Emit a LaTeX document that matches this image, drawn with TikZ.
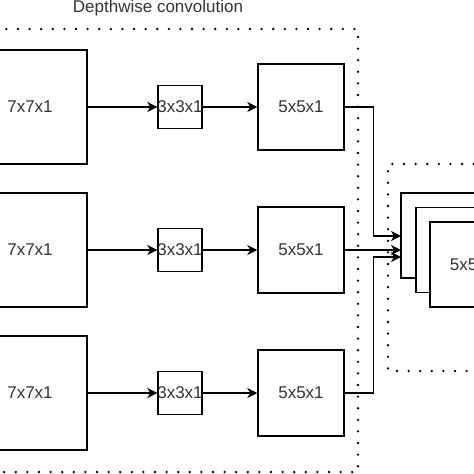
\documentclass[tikz,border=0pt]{standalone}
\usepackage{fontspec}
\setmainfont{Liberation Sans}
\usetikzlibrary{arrows.meta}
\tikzset{
  box/.style={draw=black, line width=1.4pt, fill=white, inner sep=0pt, text=black!80, font=\fontsize{17}{20}\selectfont},
  arr/.style={draw=black, line width=1.4pt, -{Stealth[length=10pt,width=10pt,inset=3pt]}},
  plainline/.style={draw=black, line width=1.4pt},
  dotline/.style={draw=black, line width=2.6pt, line cap=round, dash pattern=on 0pt off 11.6pt},
}
\begin{document}
\begin{tikzpicture}[x=1pt,y=-1pt]
\useasboundingbox (0,0) rectangle (474,474);
\clip (0,0) rectangle (474,474);
\fill[white] (0,0) rectangle (474,474);
% dotted groups
\draw[dotline] (-40,29) -- (358,29) -- (358,472) -- (-40,472);
\draw[dotline] (520,164) -- (388,164) -- (388,371) -- (520,371);
% title
\node[anchor=base, text=black!80, font=\fontsize{17}{20}\selectfont, inner sep=0pt] (title) at (158,12.5) {Depthwise convolution};
% rows
\foreach \r/\y in {1/107,2/250,3/393}{
  \node[box, minimum width=114pt, minimum height=114pt] (a\r) at (30,\y) {7x7x1};
  \node[box, minimum width=44pt, minimum height=43pt] (b\r) at (180,\y) {};
  \node[box, minimum width=86pt, minimum height=86pt] (c\r) at (301,\y) {5x5x1};
  \draw[arr] (a\r.east) -- (b\r.west);
  \draw[arr] (b\r.east) -- (c\r.west);
  \node[text=black!80, font=\fontsize{17}{20}\selectfont, inner sep=0pt] (bt\r) at (180,\y) {3x3x1};
}
% stacked boxes
\node[box, minimum width=85pt, minimum height=85pt] (s1) at (443.5,235.5) {};
\node[box, minimum width=85pt, minimum height=85pt] (s2) at (458.5,250) {};
\node[box, minimum width=85pt, minimum height=85pt] (s3) at (472.5,264.5) {5x5x1};
\coordinate (j1) at (401,236);
\coordinate (j2) at (401,250);
\coordinate (j3) at (401,257);
\draw[arr] (c1.east) -- ++(29,0) |- (j1);
\draw[arr] (c2.east) -- (j2);
\draw[arr] (c3.east) -- ++(29,0) |- (j3);
\end{tikzpicture}
\end{document}
